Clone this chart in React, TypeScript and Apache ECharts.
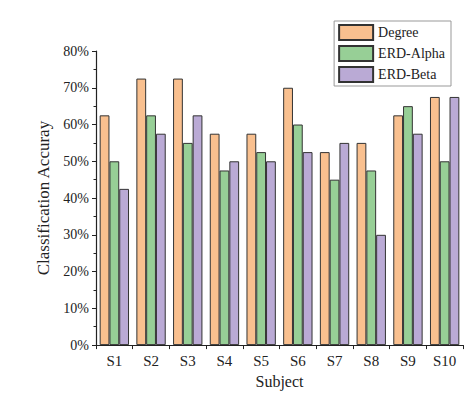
import React, { useEffect, useRef } from "react";
import * as echarts from "echarts";

const categories = ["S1", "S2", "S3", "S4", "S5", "S6", "S7", "S8", "S9", "S10"];
const degree = [62.5, 72.5, 72.5, 57.5, 57.5, 70, 52.5, 55, 62.5, 67.5];
const erdAlpha = [50, 62.5, 55, 47.5, 52.5, 60, 45, 47.5, 65, 50];
const erdBeta = [42.5, 57.5, 62.5, 50, 50, 52.5, 55, 30, 57.5, 67.5];
const seriesNames = ["Degree", "ERD-Alpha", "ERD-Beta"];
const colors = ["#F9C08F", "#97CF96", "#BAAAD5"];

const FONT = "'Liberation Serif', 'DejaVu Serif', serif";

export default function App() {
  const ref = useRef<HTMLDivElement>(null);
  useEffect(() => {
    if (!ref.current) return;
    const chart = echarts.init(ref.current, undefined, { renderer: "svg" });
    const data = [degree, erdAlpha, erdBeta];
    chart.setOption({
      animation: false,
      backgroundColor: "#ffffff",
      grid: { left: 96, right: 11, top: 51, bottom: 48, containLabel: false },
      legend: {
        orient: "vertical",
        right: 23,
        top: 21,
        icon: "rect",
        itemWidth: 34,
        itemHeight: 15,
        itemGap: 4,
        padding: [3, 6, 3, 4],
        borderColor: "#999",
        borderWidth: 1,
        borderRadius: 0,
        textStyle: { fontFamily: FONT, fontSize: 14, color: "#222" },
        data: seriesNames,
      },
      xAxis: {
        type: "category",
        data: categories,
        name: "Subject",
        nameLocation: "middle",
        nameGap: 27,
        nameTextStyle: { fontFamily: FONT, fontSize: 16, color: "#222" },
        axisLine: { lineStyle: { color: "#222", width: 1.2 } },
        axisTick: { show: true, length: 4, lineStyle: { color: "#222" } },
        axisLabel: { fontFamily: FONT, fontSize: 15, color: "#222", margin: 8 },
      },
      yAxis: {
        type: "value",
        min: 0,
        max: 80,
        interval: 10,
        name: "Classification Accuray",
        nameLocation: "middle",
        nameGap: 40,
        nameTextStyle: { fontFamily: FONT, fontSize: 17, color: "#222" },
        axisLine: { show: true, lineStyle: { color: "#222", width: 1.2 } },
        axisTick: { show: true, length: 4, lineStyle: { color: "#222" } },
        minorTick: { show: true, splitNumber: 2, length: 2.5, lineStyle: { color: "#222" } },
        splitLine: { show: false },
        axisLabel: {
          fontFamily: FONT,
          fontSize: 14,
          color: "#222",
          margin: 7,
          formatter: (v: number) => `${v}%`,
        },
      },
      series: seriesNames.map((name, i) => ({
        name,
        type: "bar",
        data: data[i],
        barGap: "0%",
        barCategoryGap: "20%",
        itemStyle: { color: colors[i], borderColor: "#333", borderWidth: 1 },
      })),
    });
    return () => chart.dispose();
  }, []);
  return <div ref={ref} style={{ width: 474, height: 394, position: "absolute", left: 0, top: 0 }} />;
}
